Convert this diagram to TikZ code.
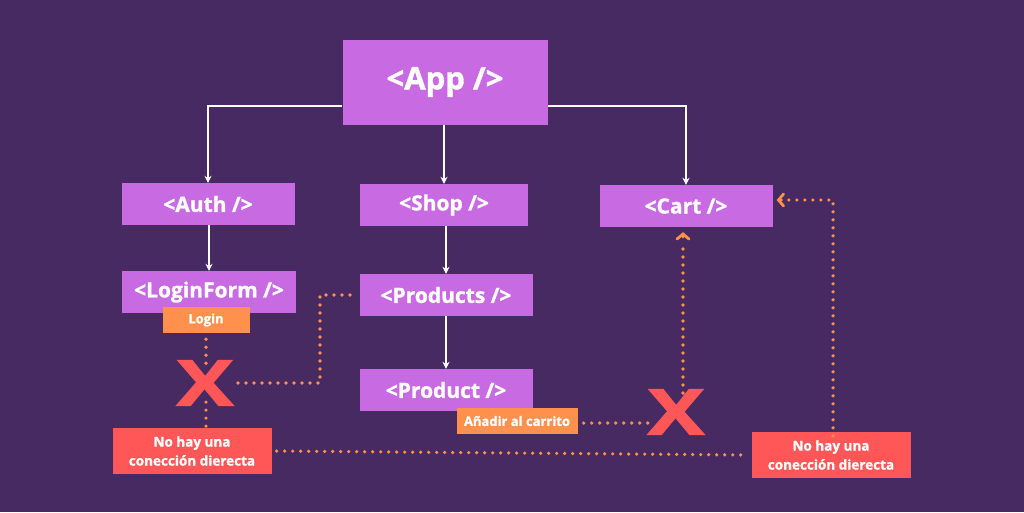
\documentclass[tikz,border=0pt]{standalone}
\usepackage{fontspec}
\setmainfont{Open Sans}[BoldFont={* Bold},BoldFeatures={FakeBold=1.2}]
\usetikzlibrary{arrows.meta}
\definecolor{bg}{HTML}{472A61}
\definecolor{pur}{HTML}{C86BE2}
\definecolor{org}{HTML}{FF914D}
\definecolor{rd}{HTML}{FF5757}
\begin{document}
\begin{tikzpicture}[x=1pt,y=-1pt,
  comp/.style={fill=pur,text=white,font=\bfseries\fontsize{21}{22}\selectfont,inner sep=0pt,minimum height=42pt},
  tag/.style={fill=org,text=white,font=\bfseries\fontsize{13}{14}\selectfont,inner sep=0pt,minimum height=26pt},
  note/.style={fill=rd,text=white,font=\bfseries\fontsize{13.5}{19}\selectfont,inner sep=0pt,minimum width=159pt,minimum height=46pt,align=center},
  cross/.style={text=rd,font=\bfseries\fontsize{64}{64}\selectfont,inner sep=0pt},
  wl/.style={white,line width=1.6pt},
  wa/.style={wl,-{Stealth[length=7pt,width=7pt]}},
  dl/.style={org,line width=3.6pt,line cap=round,dash pattern=on 0pt off 8pt},
  tip/.style={org,line width=2.8pt,line cap=round,-{Straight Barb[length=5pt,width=12pt,line cap=round]}}]
\fill[bg] (0,0) rectangle (1024,512);
\node[comp,minimum width=205pt,minimum height=85pt,font=\bfseries\fontsize{31}{32}\selectfont] (app) at (445,82) {<App />};
\node[comp,minimum width=173pt] (auth) at (208,204) {<Auth />};
\node[comp,minimum width=168pt] (shop) at (444,205) {<Shop />};
\node[comp,minimum width=173pt] (cart) at (686,206) {<Cart />};
\node[comp,minimum width=174pt] (login) at (209,292) {<LoginForm />};
\node[comp,minimum width=173pt] (prods) at (446,295) {<Products />};
\node[comp,minimum width=173pt] (prod) at (446,390) {<Product />};
\node[tag,minimum width=87pt] (ltag) at (206,320) {Login};
\node[tag,minimum width=121pt] (atag) at (517,421) {Añadir al carrito};
\node[cross] (x1) at (205,383) {\scalebox{1.35}[1]{X}};
\node[cross] (x2) at (676,412) {\scalebox{1.35}[1]{X}};
\node[note] (n1) at (192,451) {No hay una\\conección dierecta};
\node[note] (n2) at (831,455) {No hay una\\conección dierecta};
\coordinate (c1) at (205,106);
\coordinate (c2) at (686,106);
\draw[wa] (app.west|-c1) -| (auth.north);
\draw[wa] (app.south-|shop.north) -- (shop.north);
\draw[wa] (app.east|-c2) -| (cart.north);
\draw[wa] (auth.south-|login.north) -- (login.north);
\draw[wa] (shop.south-|prods.north) -- (prods.north);
\draw[wa] (prods.south-|prod.north) -- (prod.north);
\coordinate (k1) at (320,383);
\coordinate (k2) at (833,200);
\coordinate (k3) at (650,423);
\coordinate (k4) at (683,393);
\draw[dl] (ltag.south) ++(0,6) -- ([yshift=-4pt]x1.north-|ltag.south);
\draw[dl] ([yshift=4pt]x1.south-|ltag.south) -- ([yshift=-4pt]n1.north-|ltag.south);
\draw[dl] ([xshift=4pt]x1.east) -- (k1) |- ([xshift=-5pt]prods.west);
\draw[dl] ([xshift=5pt]n1.east) -- ([xshift=-5pt]n2.west);
\draw[dl] ([xshift=6pt]atag.east|-k3) -- (k3);
\draw[dl] (k4) -- ([yshift=-14pt]cart.south-|k4);
\draw[tip] ([yshift=-10pt]cart.south-|k4) -- ([yshift=-5pt]cart.south-|k4);
\draw[dl] ([xshift=2pt,yshift=-4pt]n2.north) -- (k2) -- ([xshift=12pt]cart.east|-k2);
\draw[tip] ([xshift=9pt]cart.east|-k2) -- ([xshift=4pt]cart.east|-k2);
\end{tikzpicture}
\end{document}
